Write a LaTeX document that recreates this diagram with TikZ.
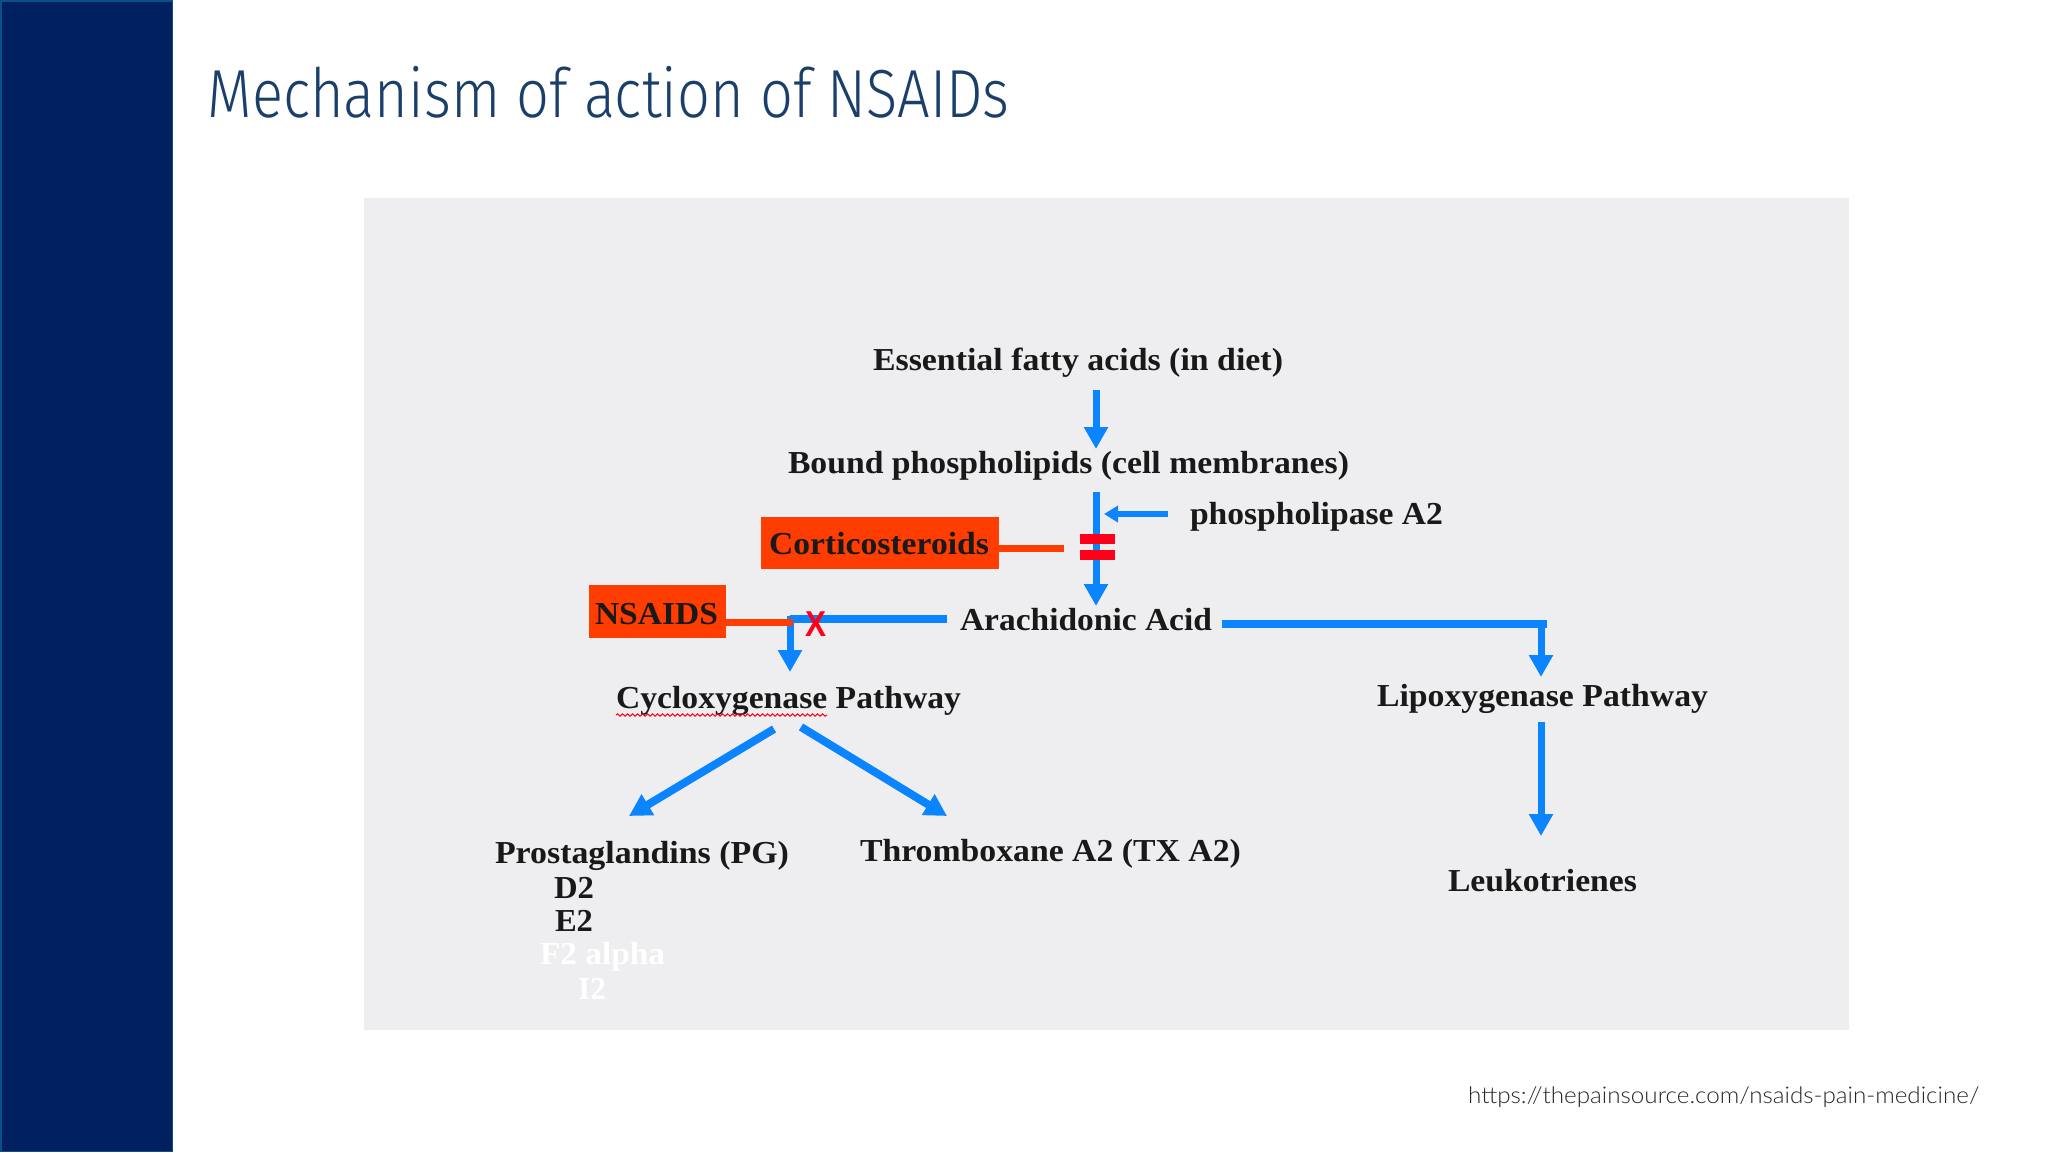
\documentclass[tikz,border=0pt]{standalone}
\usepackage{fontspec}
\usepackage{graphicx}
\usetikzlibrary{arrows.meta,decorations.pathmorphing}
\setmainfont{Liberation Serif}
\newfontfamily\titlefont[UprightFont=* Light]{Fira Sans}
\newfontfamily\urlfont[UprightFont=* Light]{Lato}
\newfontfamily\xfont{Liberation Sans}
\definecolor{sidebar}{HTML}{00205F}
\definecolor{sideedge}{HTML}{0B4F8A}
\definecolor{panel}{HTML}{EEEDEF}
\definecolor{titleblue}{HTML}{1A3F6B}
\definecolor{flowblue}{HTML}{0A84FF}
\definecolor{blockorange}{HTML}{FF3D00}
\definecolor{markred}{HTML}{FF0018}
\newcommand{\fitw}[2]{\resizebox{#1pt}{\height}{#2}}
\tikzset{
  x=1pt,y=-1pt,
  lab/.style={anchor=base west,inner sep=0pt,outer sep=0pt,font=\fontsize{32}{36}\selectfont\bfseries,text=black!90},
  whitelab/.style={lab,text=white},
  flow/.style={draw=flowblue,line width=7pt,-{Triangle[length=22pt,width=23pt]}},
  flowdiag/.style={flow,line width=8pt},
  flowthin/.style={draw=flowblue,line width=5.5pt,-{Triangle[length=14pt,width=16pt]}},
  flowplain/.style={draw=flowblue,line width=7.5pt},
  blockline/.style={draw=blockorange,line width=7pt},
  blockbox/.style={fill=blockorange,draw=none,inner sep=0pt,outer sep=0pt,anchor=north west},
  barmark/.style={fill=markred,draw=none,inner sep=0pt,outer sep=0pt,anchor=north west,minimum width=35pt,minimum height=10pt},
  xlab/.style={anchor=base west,inner sep=0pt,text=markred,font=\xfont\bfseries\fontsize{36}{38}\selectfont},
}
\begin{document}
\begin{tikzpicture}
\useasboundingbox (0,0) rectangle (2048,1152);
\fill[white] (0,0) rectangle (2048,1152);
\fill[sideedge] (0,0) rectangle (173,1152);
\fill[sidebar] (1.5,1.5) rectangle (171.5,1150.5);
\fill[panel] (364,198) rectangle (1849,1030);

\node[anchor=base west,inner sep=0pt,text=titleblue,font=\titlefont\fontsize{68}{72}\selectfont] (title) at (207.5,117) {\fitw{802}{Mechanism of action of NSAIDs}};
\node[anchor=base west,inner sep=0pt,text=black!85,font=\urlfont\fontsize{23}{26}\selectfont] (url) at (1468,1103) {\fitw{511}{https://thepainsource.com/nsaids-pain-medicine/}};

% boxes
\node[blockbox,minimum width=238pt,minimum height=52pt] (cortbox) at (761,517) {};
\node[blockbox,minimum width=137pt,minimum height=53pt] (nsaidbox) at (589,585) {};

% labels
\node[lab] (essential) at (873,370) {\fitw{410}{Essential fatty acids (in diet)}};
\node[lab] (bound) at (788,473) {\fitw{561}{Bound phospholipids (cell membranes)}};
\node[lab] (pla) at (1190,524) {\fitw{253}{phospholipase A2}};
\node[lab] (cort) at (769,554) {\fitw{220}{Corticosteroids}};
\node[lab] (nsaids) at (595,624) {\fitw{123}{NSAIDS}};
\node[lab] (arach) at (960,630) {\fitw{252}{Arachidonic Acid}};
\node[lab] (cox) at (616,708) {\fitw{345}{Cycloxygenase Pathway}};
\node[lab] (lox) at (1377,706) {\fitw{331}{Lipoxygenase Pathway}};
\node[lab] (pg) at (495,863) {\fitw{294}{Prostaglandins (PG)}};
\node[lab] (d2) at (554,898) {\fitw{40}{D2}};
\node[lab] (e2) at (555,931) {\fitw{38}{E2}};
\node[whitelab] (f2) at (540,964) {\fitw{125}{F2 alpha}};
\node[whitelab] (i2) at (578,999) {\fitw{28}{I2}};
\node[lab] (tx) at (860,861) {\fitw{381}{Thromboxane A2 (TX A2)}};
\node[lab] (leuko) at (1448,891) {\fitw{189}{Leukotrienes}};

% connector end points
\coordinate (a1s) at (1096,390);
\coordinate (a1e) at (1096,449);
\coordinate (a2s) at (1096,492);
\coordinate (a2e) at (1096,606);
\coordinate (pls) at (1168,514);
\coordinate (ple) at (1104,514);
\coordinate (cortend) at (1064,548);
\coordinate (nsaidend) at (793,622);
\coordinate (coxjoin) at (790,619);
\coordinate (coxs) at (790,615.5);
\coordinate (coxe) at (790,672);
\coordinate (arachl) at (947,619);
\coordinate (arachr) at (1222,624);
\coordinate (corner) at (1547,624);
\coordinate (loxs) at (1541,624);
\coordinate (loxe) at (1541,677);
\coordinate (ls) at (1541,722);
\coordinate (le) at (1541,836);
\coordinate (pga) at (774,729);
\coordinate (pgb) at (629,816);
\coordinate (txa) at (801,727);
\coordinate (txb) at (947,816);
\coordinate (sqa) at (616,715);
\coordinate (sqb) at (827,715);

% connectors
\draw[flow] (a1s) -- (a1e);
\draw[flow] (a2s) -- (a2e);
\draw[flowthin] (pls) -- (ple);
\draw[blockline] (cortbox.east |- cortend) -- (cortend);
\draw[flowplain] (arachl) -- (coxjoin);
\draw[flow] (coxs) -- (coxe);
\draw[blockline] (nsaidbox.east |- nsaidend) -- (nsaidend);
\draw[flowplain] (arachr) -- (corner);
\draw[flow] (loxs) -- (loxe);
\draw[flow] (ls) -- (le);
\draw[flowdiag] (pga) -- (pgb);
\draw[flowdiag] (txa) -- (txb);
\draw[markred,line width=1pt,decorate,decoration={snake,amplitude=1.2pt,segment length=5pt}] (sqa) -- (sqb);

% marks over the connectors
\node[barmark] (bar1) at (1080,534) {};
\node[barmark] (bar2) at (1080,550) {};
\node[xlab] (xmark) at (805,636) {\fitw{21}{X}};
\end{tikzpicture}
\end{document}
